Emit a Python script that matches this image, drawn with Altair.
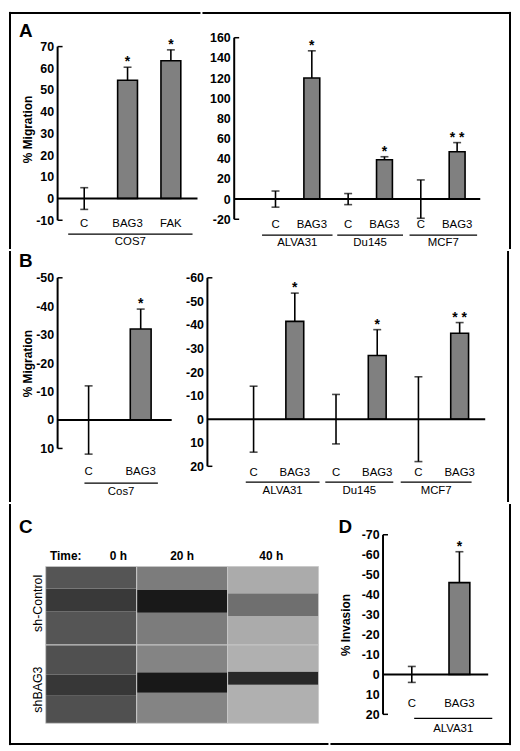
import altair as alt
import pandas as pd

FONT = "Liberation Sans"
BAR_GRAY = "#808080"

# ---------------- data ----------------
# Panel A, left (COS7)
a1_labels = ["C", "BAG3", "FAK"]
a1_pos = [0.5, 1.5, 2.5]
a1_mean = [0, 54.5, 63.5]
a1_err = [5, 6, 5]
a1_star = ["", "*", "*"]
a1_groups = ["COS7"]
a1_gstart = [0.13]
a1_gend = [3.0]

# Panel A, right
a2_labels = ["C", "BAG3", "C", "BAG3", "C", "BAG3"]
a2_pos = [1, 2, 3, 4, 5, 6]
a2_mean = [0, 120, 0, 39, 0, 47]
a2_err = [8, 27, 5.5, 3, 19, 9]
a2_star = ["", "*", "", "*", "", "* *"]
a2_groups = ["ALVA31", "Du145", "MCF7"]
a2_gstart = [0.63, 2.70, 4.69]
a2_gend = [2.57, 4.51, 6.55]

# Panel B, left (Cos7)
b1_labels = ["C", "BAG3"]
b1_pos = [0.5, 1.5]
b1_mean = [0, -32]
b1_err = [12, 7]
b1_star = ["", "*"]
b1_groups = ["Cos7"]
b1_gstart = [0.42]
b1_gend = [1.83]

# Panel B, right
b2_labels = ["C", "BAG3", "C", "BAG3", "C", "BAG3"]
b2_pos = [1, 2, 3, 4, 5, 6]
b2_mean = [0, -41.5, 0, -27, 0, -36.5]
b2_err = [14, 12, 10.5, 11, 18, 4.5]
b2_star = ["", "*", "", "*", "", "* *"]
b2_groups = ["ALVA31", "Du145", "MCF7"]
b2_gstart = [0.81, 2.74, 4.57]
b2_gend = [2.60, 4.39, 6.29]

# Panel D (invasion)
d_labels = ["C", "BAG3"]
d_pos = [0.5, 1.5]
d_mean = [0, -46]
d_err = [4, 15.5]
d_star = ["", "*"]
d_groups = ["ALVA31"]
d_gstart = [0.55]
d_gend = [2.19]

# Panel C (wound-healing micrographs, summarised as grey bands)
c_times = ["0 h", "20 h", "40 h", "0 h", "20 h", "40 h"]
c_rows = ["sh-Control"] * 3 + ["shBAG3"] * 3
c_col = [0, 1, 2, 0, 1, 2]
c_rowbase = [1, 1, 1, 0, 0, 0]
c_cell_gray = [0.36, 0.52, 0.70, 0.34, 0.55, 0.72]
c_wound_gray = [0.24, 0.09, 0.47, 0.23, 0.08, 0.16]
c_wound_lo = [0.43, 0.41, 0.37, 0.35, 0.39, 0.49]
c_wound_hi = [0.72, 0.70, 0.66, 0.62, 0.65, 0.66]
c_head_text = ["Time:", "0 h", "20 h", "40 h"]
c_head_x = [0.22, 0.80, 1.50, 2.48]
c_row_text = ["sh-Control", "shBAG3"]
c_row_y = [1.53, 0.43]

LABEL_EXPR = "datum.value < 0 ? '-' + abs(datum.value) : '' + datum.value"


def cell_layers(cell, edges):
    """Invisible cell box fixing the panel's bounds, plus figure-frame edges."""
    x0, x1, y0, y1 = cell
    out = [alt.Chart(pd.DataFrame({"c": [1]})).mark_rect(
        fill="white", fillOpacity=0, strokeWidth=0).encode(
        x=alt.value(x0), x2=alt.value(x1), y=alt.value(y0), y2=alt.value(y1))]
    for side in edges:
        if side == "top":
            enc = dict(x=alt.value(x0), x2=alt.value(x1), y=alt.value(y0 + 1))
        elif side == "bottom":
            enc = dict(x=alt.value(x0), x2=alt.value(x1), y=alt.value(y1 - 1))
        elif side == "left":
            enc = dict(x=alt.value(x0 + 1), y=alt.value(y0), y2=alt.value(y1))
        else:
            enc = dict(x=alt.value(x1 - 1), y=alt.value(y0), y2=alt.value(y1))
        out.append(alt.Chart(pd.DataFrame({"c": [1]})).mark_rule(
            color="black", strokeWidth=2).encode(**enc))
    return out


def bar_panel(labels, pos, mean, err, star, groups, gstart, gend,
              xdom, ydom, yticks, w, h, bar_w, label_y, line_y, group_y,
              cell, edges, reverse=False, ytitle="", title_pad=5, letter=None,
              letter_xy=(0, 0)):
    up = -1 if reverse else 1
    df = pd.DataFrame({"label": labels, "pos": pos, "mean": mean,
                       "err": err, "star": star})
    ctrl = df["mean"] == 0
    df["top"] = df["mean"] + up * df["err"]
    df["bot"] = df["mean"].where(~ctrl, df["mean"] - up * df["err"])
    df["zero"] = 0
    caps = pd.concat([
        pd.DataFrame({"pos": df["pos"], "v": df["top"]}),
        pd.DataFrame({"pos": df.loc[ctrl, "pos"], "v": df.loc[ctrl, "bot"]}),
    ])
    g = pd.DataFrame({"group": groups, "gs": gstart, "ge": gend})
    g["gc"] = (g["gs"] + g["ge"]) / 2

    yscale = alt.Scale(domain=ydom, reverse=reverse, nice=False, zero=False)
    yaxis = alt.Axis(values=yticks, ticks=False, domain=False, grid=False,
                     labelExpr=LABEL_EXPR,
                     labelFont=FONT, labelFontWeight="bold", labelFontSize=12.5,
                     labelColor="black", labelPadding=4, title=ytitle,
                     titleFont=FONT, titleFontSize=12, titleFontWeight="bold",
                     titleColor="black", titlePadding=title_pad)
    xscale = alt.Scale(domain=xdom, nice=False, zero=False)

    def Y(f):
        return alt.Y(f, type="quantitative", scale=yscale, axis=yaxis)

    def X(f):
        return alt.X(f, type="quantitative", scale=xscale, axis=None)

    layers = cell_layers(cell, edges)
    axis_df = pd.DataFrame({"lo": [min(yticks)], "hi": [max(yticks)]})
    ends_df = pd.DataFrame({"v": [min(yticks), max(yticks)]})
    layers.append(alt.Chart(axis_df).mark_rule(color="black", strokeWidth=2).encode(
        x=alt.value(0), y=Y("lo"), y2=alt.Y2("hi")))
    layers.append(alt.Chart(ends_df).mark_rule(color="black", strokeWidth=1.5).encode(
        x=alt.value(0), x2=alt.value(5), y=Y("v")))
    layers.append(alt.Chart(df).mark_rule(color="black", strokeWidth=1.6).encode(
        x=X("pos"), y=Y("bot"), y2=alt.Y2("top")))
    layers.append(alt.Chart(caps).mark_tick(orient="horizontal", size=8, thickness=1.6,
                                            color="black").encode(
        x=X("pos"), y=Y("v")))
    layers.append(alt.Chart(df[~ctrl]).mark_bar(size=bar_w, color=BAR_GRAY,
                                                stroke="black", strokeWidth=1.6).encode(
        x=X("pos"), y=Y("mean"), y2=alt.Y2("zero")))
    layers.append(alt.Chart(pd.DataFrame({"z": [0]})).mark_rule(color="black",
                                                               strokeWidth=2).encode(
        y=Y("z"), x=alt.value(0), x2=alt.value(w)))
    layers.append(alt.Chart(df[df["star"] != ""]).mark_text(
        font=FONT, fontSize=14, fontWeight="bold", baseline="middle", dy=-5).encode(
        x=X("pos"), y=Y("top"), text="star"))
    layers.append(alt.Chart(df).mark_text(font=FONT, fontSize=11.5,
                                          baseline="middle").encode(
        x=X("pos"), y=alt.value(label_y), text="label"))
    layers.append(alt.Chart(g).mark_rule(color="black", strokeWidth=1.3).encode(
        x=X("gs"), x2=alt.X2("ge"), y=alt.value(line_y)))
    layers.append(alt.Chart(g).mark_text(font=FONT, fontSize=11.5,
                                         baseline="middle").encode(
        x=X("gc"), y=alt.value(group_y), text="group"))
    if letter:
        layers.append(alt.Chart(pd.DataFrame({"t": [letter]})).mark_text(
            font=FONT, fontSize=19, fontWeight="bold", align="left",
            baseline="middle").encode(
            x=alt.value(letter_xy[0]), y=alt.value(letter_xy[1]), text="t"))
    return alt.layer(*layers).properties(width=w, height=h)


a_left = bar_panel(a1_labels, a1_pos, a1_mean, a1_err, a1_star, a1_groups,
                   a1_gstart, a1_gend, [0, 3], [-10, 74.1],
                   [-10, 0, 10, 20, 30, 40, 50, 60, 70], 141, 184, 20,
                   188, 198, 206, cell=(-49, 144, -26, 213), edges=["top", "left"],
                   ytitle="% Migration", title_pad=1,
                   letter="A", letter_xy=(-39, -7))
a_right = bar_panel(a2_labels, a2_pos, a2_mean, a2_err, a2_star, a2_groups,
                    a2_gstart, a2_gend, [0, 6.5], [-20, 160],
                    [-20, 0, 20, 40, 60, 80, 100, 120, 140, 160], 248, 183, 16,
                    189, 199, 207, cell=(-32, 279, -26, 213), edges=["top", "right"])
b_left = bar_panel(b1_labels, b1_pos, b1_mean, b1_err, b1_star, b1_groups,
                   b1_gstart, b1_gend, [0, 2], [-50, 10],
                   [-50, -40, -30, -20, -10, 0, 10], 115, 172, 21,
                   196, 207, 216, cell=(-49, 123, -27, 226), edges=["left"],
                   reverse=True, ytitle="% Migration",
                   title_pad=1, letter="B", letter_xy=(-39, -17))
b_right = bar_panel(b2_labels, b2_pos, b2_mean, b2_err, b2_star, b2_groups,
                    b2_gstart, b2_gend, [0, 6.5], [-60, 20],
                    [-60, -50, -40, -30, -20, -10, 0, 10, 20], 280, 190, 18,
                    197, 206, 215, cell=(-28, 304, -27, 226), edges=["right"],
                    reverse=True)
d_panel = bar_panel(d_labels, d_pos, d_mean, d_err, d_star, d_groups,
                    d_gstart, d_gend, [0, 2], [-70, 20],
                    [-70, -60, -50, -40, -30, -20, -10, 0, 10, 20], 106, 181, 21,
                    171, 185, 196, cell=(-53, 129, -31, 212), edges=["right", "bottom"],
                    reverse=True, ytitle="% Invasion",
                    title_pad=9, letter="D", letter_xy=(-45, -8))

# ---- panel C ----
bands = []
for i in range(len(c_times)):
    c, r = c_col[i], c_rowbase[i]
    lo, hi = c_wound_lo[i], c_wound_hi[i]
    bands.append((c, c + 1, r, r + lo, c_cell_gray[i]))
    bands.append((c, c + 1, r + lo, r + hi, c_wound_gray[i]))
    bands.append((c, c + 1, r + hi, r + 1, c_cell_gray[i]))
bands_df = pd.DataFrame(bands, columns=["x0", "x1", "y0", "y1", "gray"])
tiles_df = pd.DataFrame({"x0": c_col, "x1": [v + 1 for v in c_col],
                         "y0": c_rowbase, "y1": [v + 1 for v in c_rowbase],
                         "time": c_times, "row": c_rows})
head_df = pd.DataFrame({"t": c_head_text, "x": c_head_x, "y": [2.13] * 4})
rowlab_df = pd.DataFrame({"t": c_row_text, "y": c_row_y, "x": [-0.08, -0.08]})

cx = alt.Scale(domain=[0.131, 3], nice=False, zero=False)
cy = alt.Scale(domain=[0, 2.405], nice=False, zero=False)


def CX(f):
    return alt.X(f, type="quantitative", scale=cx, axis=None)


def CY(f):
    return alt.Y(f, type="quantitative", scale=cy, axis=None)


c_rect = alt.Chart(bands_df).mark_rect().encode(
    x=CX("x0"), x2=alt.X2("x1"), y=CY("y0"), y2=alt.Y2("y1"),
    color=alt.Color("gray:Q", scale=alt.Scale(domain=[0, 1], range=["black", "white"]),
                    legend=None))
c_tiles = alt.Chart(tiles_df).mark_rect(filled=False, stroke="#c8c8c8",
                                        strokeWidth=0.8).encode(
    x=CX("x0"), x2=alt.X2("x1"), y=CY("y0"), y2=alt.Y2("y1"))
c_head = alt.Chart(head_df).mark_text(font=FONT, fontSize=12, fontWeight="bold",
                                      baseline="middle").encode(
    x=CX("x"), y=CY("y"), text="t")
c_rowlab = alt.Chart(rowlab_df).mark_text(font=FONT, fontSize=12.5, angle=270,
                                          baseline="middle").encode(
    x=CX("x"), y=CY("y"), text="t")
c_letter = alt.Chart(pd.DataFrame({"t": ["C"]})).mark_text(
    font=FONT, fontSize=19, fontWeight="bold", align="left",
    baseline="middle").encode(x=alt.value(-39), y=alt.value(-8), text="t")
c_panel = alt.layer(*cell_layers((-49, 273, -31, 212), ["left", "bottom"]),
                    c_rect, c_tiles, c_head, c_rowlab, c_letter).properties(
    width=263, height=190)

row_a = alt.hconcat(a_left, a_right, spacing=0)
row_b = alt.hconcat(b_left, b_right, spacing=0)
row_c = alt.hconcat(c_panel, d_panel, spacing=0)

chart = alt.vconcat(row_a, row_b, row_c, spacing=0).properties(
    padding=0, background="white"
).configure_view(strokeWidth=0)

chart.save("out.html", embed_options={"renderer": "svg", "actions": False})
